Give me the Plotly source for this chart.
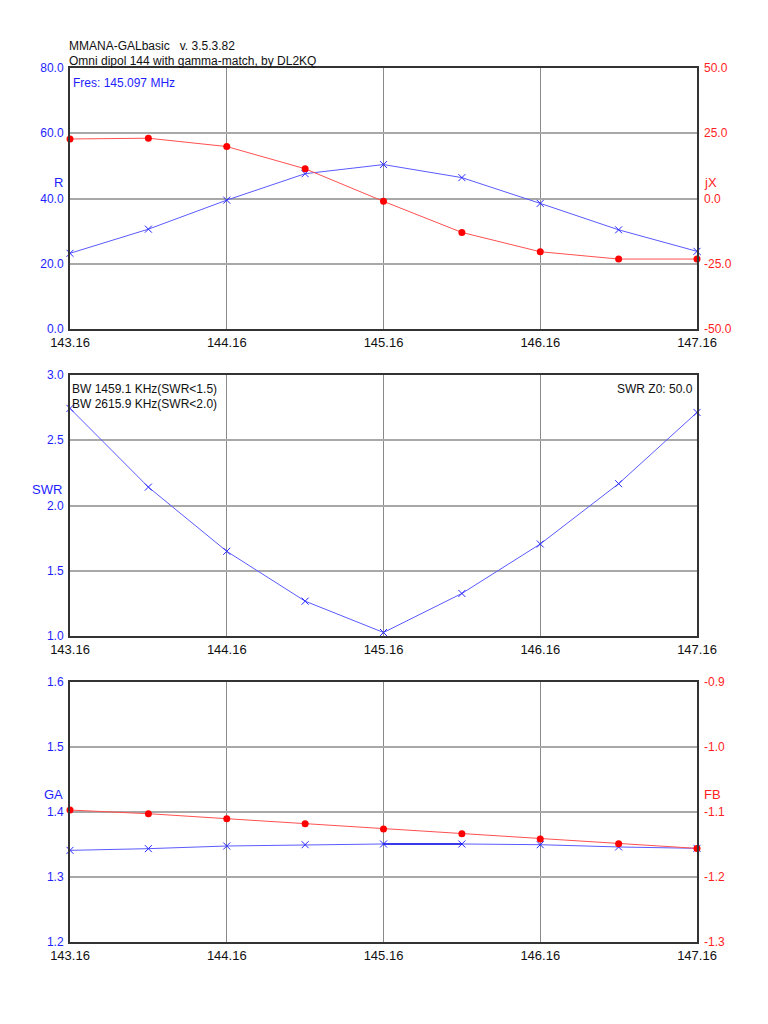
import plotly.graph_objects as go

# ---- data ----
freq = [143.16, 143.66, 144.16, 144.66, 145.16, 145.66, 146.16, 146.66, 147.16]
R = [23.2, 30.6, 39.5, 47.6, 50.4, 46.4, 38.5, 30.4, 23.8]
jX = [22.8, 23.1, 19.9, 11.4, -1.1, -13.0, -20.4, -23.2, -23.2]
SWR = [2.744, 2.141, 1.649, 1.267, 1.027, 1.326, 1.705, 2.167, 2.713]
GA = [1.341, 1.3436, 1.3477, 1.3497, 1.3508, 1.3508, 1.3497, 1.3462, 1.3441]
FB = [-1.097, -1.1026, -1.1103, -1.118, -1.126, -1.1333, -1.1415, -1.1487, -1.156]

x_ticks = [143.16, 144.16, 145.16, 146.16, 147.16]
x_ticktext = ["143.16", "144.16", "145.16", "146.16", "147.16"]
R_ticks = [0, 20, 40, 60, 80]
R_ticktext = ["0.0", "20.0", "40.0", "60.0", "80.0"]
jX_ticks = [-50, -25, 0, 25, 50]
jX_ticktext = ["-50.0", "-25.0", "0.0", "25.0", "50.0"]
SWR_ticks = [1.0, 1.5, 2.0, 2.5, 3.0]
SWR_ticktext = ["1.0", "1.5", "2.0", "2.5", "3.0"]
GA_ticks = [1.2, 1.3, 1.4, 1.5, 1.6]
GA_ticktext = ["1.2", "1.3", "1.4", "1.5", "1.6"]
FB_ticks = [-1.3, -1.2, -1.1, -1.0, -0.9]
FB_ticktext = ["-1.3", "-1.2", "-1.1", "-1.0", "-0.9"]

title1 = "MMANA-GALbasic\u00a0\u00a0\u00a0v. 3.5.3.82"
title2 = "Omni dipol 144 with gamma-match, by DL2KQ"
fres_text = "Fres: 145.097 MHz"
bw_text1 = "BW 1459.1 KHz(SWR<1.5)"
bw_text2 = "BW 2615.9 KHz(SWR<2.0)"
z0_text = "SWR Z0: 50.0"

# ---- styling ----
W, H = 768, 1024
FONT = "Liberation Sans, Arial, sans-serif"
BLUE_LINE = "rgb(90,90,255)"
BLUE_MK = "rgb(40,40,255)"
BLUE_TXT = "rgb(30,30,255)"
RED_LINE = "rgb(255,80,80)"
RED_MK = "rgb(255,0,0)"
RED_TXT = "rgb(255,30,30)"
FRAME = "#333333"
HGRID = "#a8a8a8"

def px_x(p):
    return p / W

def px_y(p):
    return 1 - p / H

xdom = [px_x(70), px_x(697)]
dom1 = [px_y(329), px_y(68)]
dom2 = [px_y(636), px_y(375)]
dom3 = [px_y(942), px_y(682)]

fig = go.Figure()

blue_marker = dict(symbol="x-thin-open", size=7, color=BLUE_MK, line=dict(width=1, color=BLUE_MK))
red_marker = dict(symbol="circle", size=7, color=RED_MK, line=dict(width=0))

fig.add_trace(go.Scatter(x=freq, y=R, mode="lines+markers", xaxis="x", yaxis="y",
                         line=dict(color=BLUE_LINE, width=1), marker=blue_marker, cliponaxis=False))
fig.add_trace(go.Scatter(x=freq, y=jX, mode="lines+markers", xaxis="x", yaxis="y2",
                         line=dict(color=RED_LINE, width=1), marker=red_marker, cliponaxis=False))
fig.add_trace(go.Scatter(x=freq, y=SWR, mode="lines+markers", xaxis="x2", yaxis="y3",
                         line=dict(color=BLUE_LINE, width=1), marker=blue_marker, cliponaxis=False))
fig.add_trace(go.Scatter(x=freq, y=FB, mode="lines+markers", xaxis="x3", yaxis="y5",
                         line=dict(color=RED_LINE, width=1), marker=red_marker, cliponaxis=False))
fig.add_trace(go.Scatter(x=freq, y=GA, mode="lines+markers", xaxis="x3", yaxis="y4",
                         line=dict(color=BLUE_LINE, width=1), marker=blue_marker, cliponaxis=False))
fig.add_trace(go.Scatter(x=freq[4:6], y=GA[4:6], mode="lines", xaxis="x3", yaxis="y4",
                         line=dict(color="rgb(20,20,230)", width=1.5), cliponaxis=False))

def xaxis(anchor):
    return dict(domain=xdom, anchor=anchor, range=[143.16, 147.16], tickmode="array",
                tickvals=x_ticks, ticktext=x_ticktext, showgrid=True, gridcolor="#8a8a8a",
                gridwidth=1, showline=True, linecolor=FRAME, linewidth=2, mirror=True,
                zeroline=False, ticks="", tickfont=dict(family=FONT, size=13, color="#111"),
                fixedrange=True, automargin=False, ticklabelstandoff=0)

def yaxis(dom, rng, ticks, ticktext, color, side="left", grid=True, overlay=None, anchor=None):
    d = dict(domain=dom, range=rng, tickmode="array", tickvals=ticks, ticktext=ticktext,
             showgrid=grid, gridcolor=HGRID, gridwidth=2, zeroline=False, ticks="",
             side=side, tickfont=dict(family=FONT, size=12, color=color), fixedrange=True,
             showline=True, linecolor=FRAME, linewidth=2, mirror=True, ticklabelstandoff=2,
             automargin=False)
    if overlay:
        d["overlaying"] = overlay
        d["showline"] = False
        d["mirror"] = False
        d["ticklabelstandoff"] = 6
    if anchor:
        d["anchor"] = anchor
    return d

fig.update_layout(
    width=W, height=H, margin=dict(l=0, r=0, t=0, b=0),
    paper_bgcolor="white", plot_bgcolor="white", showlegend=False,
    font=dict(family=FONT, size=12, color="#111"),
    xaxis=xaxis("y"),
    xaxis2=xaxis("y3"),
    xaxis3=xaxis("y4"),
    yaxis=yaxis(dom1, [0, 80], R_ticks, R_ticktext, BLUE_TXT, anchor="x"),
    yaxis2=yaxis(dom1, [-50, 50], jX_ticks, jX_ticktext, RED_TXT, side="right", grid=False, overlay="y", anchor="x"),
    yaxis3=yaxis(dom2, [1.0, 3.0], SWR_ticks, SWR_ticktext, BLUE_TXT, anchor="x2"),
    yaxis4=yaxis(dom3, [1.2, 1.6], GA_ticks, GA_ticktext, BLUE_TXT, anchor="x3"),
    yaxis5=yaxis(dom3, [-1.3, -0.9], FB_ticks, FB_ticktext, RED_TXT, side="right", grid=False, overlay="y4", anchor="x3"),
)

def ann(text, x, y, color="#111", xanchor="left", size=12):
    fig.add_annotation(text=text, x=px_x(x), y=px_y(y), xref="paper", yref="paper",
                       xanchor=xanchor, yanchor="middle", showarrow=False,
                       font=dict(family=FONT, size=size, color=color))

ann(title1, 67, 46)
ann(title2, 67, 61)
ann(fres_text, 71, 83, BLUE_TXT)
ann("R", 58, 182, BLUE_TXT, "center", 13)
ann("jX", 710, 182, RED_TXT, "center", 13)
ann(bw_text1, 70, 389)
ann(bw_text2, 70, 404)
ann(z0_text, 695, 389, xanchor="right")
ann("SWR", 47, 489, BLUE_TXT, "center", 13)
ann("GA", 53, 794, BLUE_TXT, "center", 13)
ann("FB", 712, 794, RED_TXT, "center", 13)

fig.write_html("out.html")
